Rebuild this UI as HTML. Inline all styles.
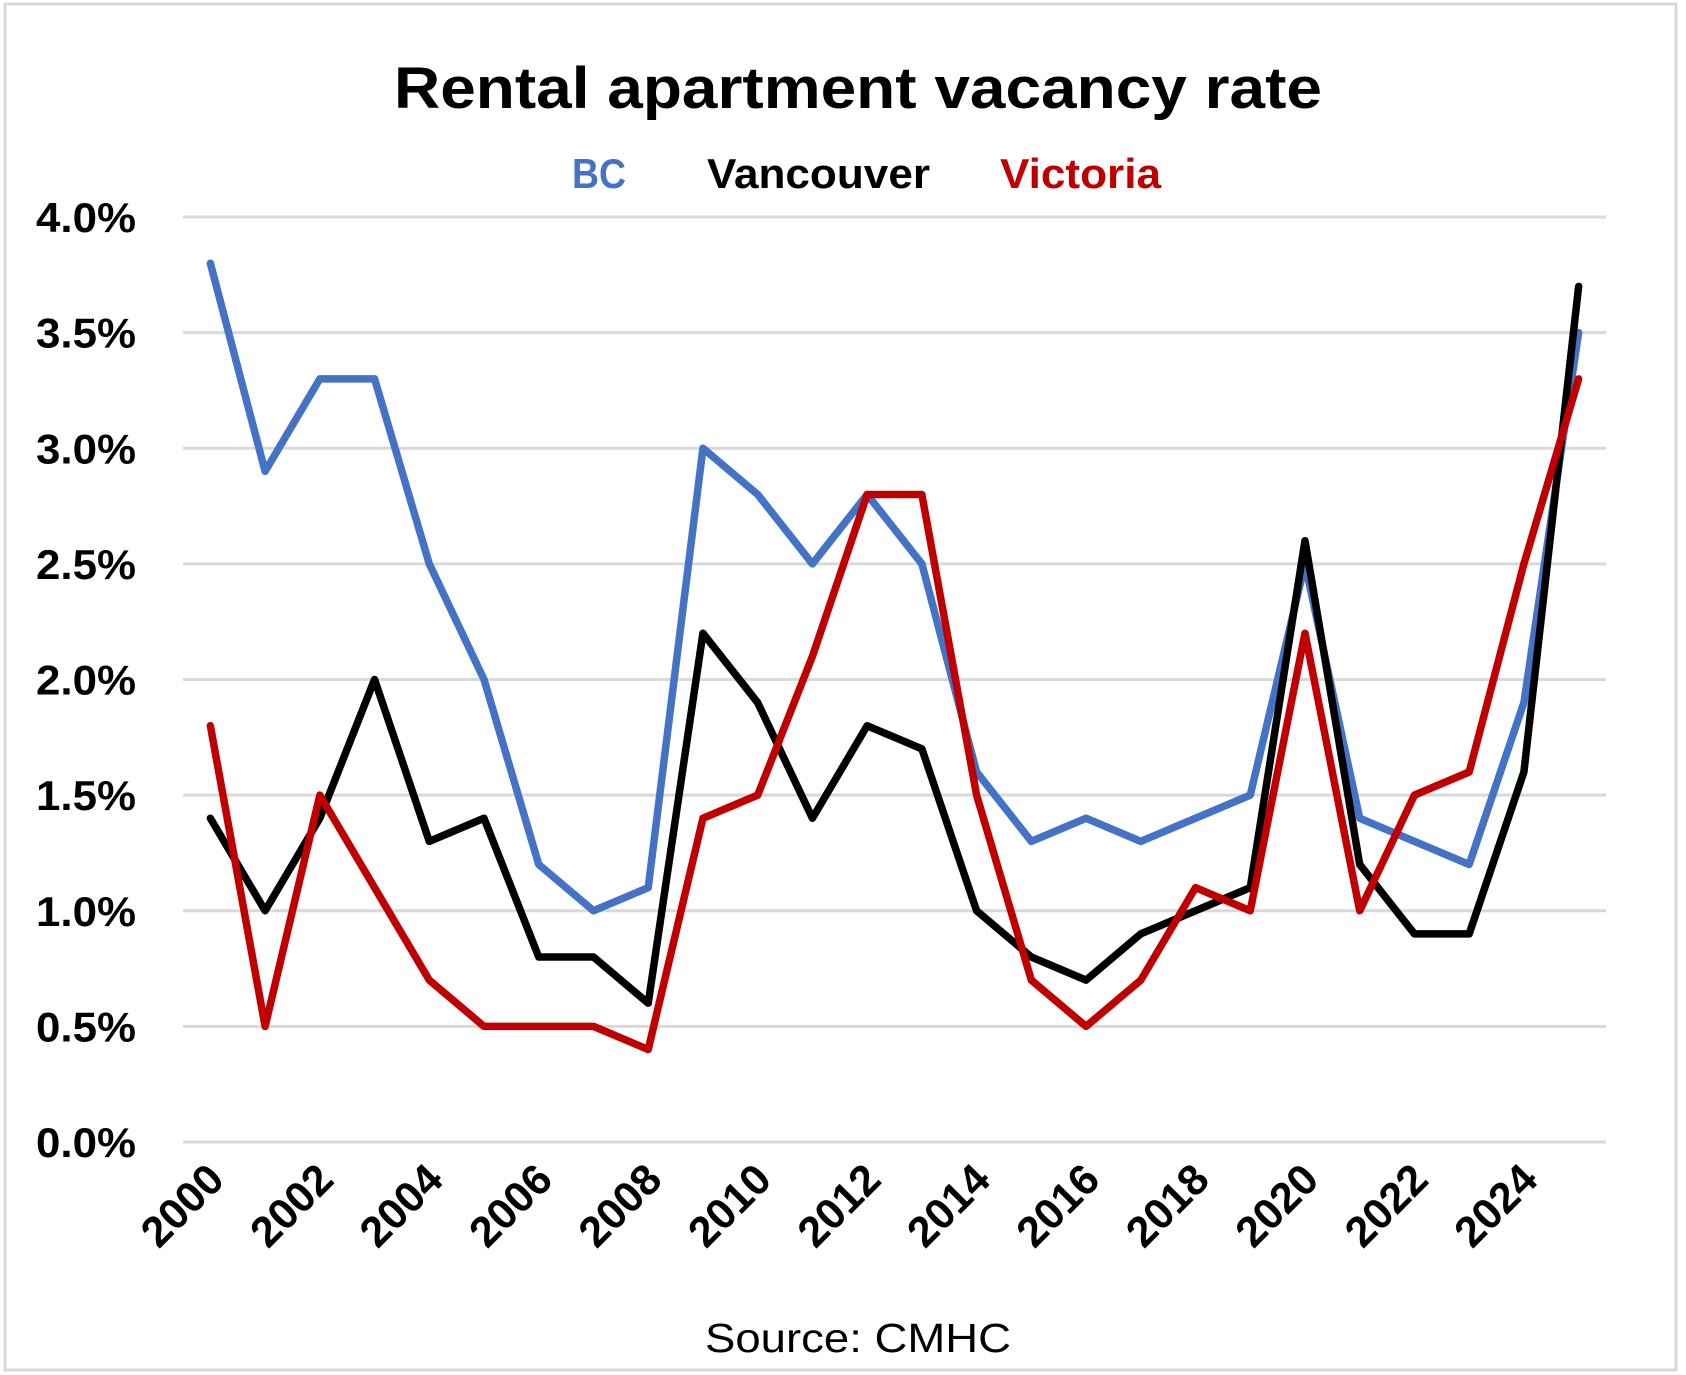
<!DOCTYPE html>
<html><head><meta charset="utf-8"><style>html,body{margin:0;padding:0;background:#fff}svg{display:block}</style></head>
<body>
<svg id="chart" width="1686" height="1375" xmlns="http://www.w3.org/2000/svg">
<rect x="5" y="4" width="1671" height="1366" fill="#fff" stroke="#d9d9d9" stroke-width="3"/>
<text x="858" y="108" text-anchor="middle" font-family="'Liberation Sans',sans-serif" font-weight="bold" font-size="58" textLength="928" lengthAdjust="spacingAndGlyphs">Rental apartment vacancy rate</text>
<g font-family="'Liberation Sans',sans-serif" font-weight="bold" font-size="42">
<text x="572" y="188" fill="#4472C4" textLength="54" lengthAdjust="spacingAndGlyphs">BC</text>
<text x="707" y="188" fill="#000" textLength="223" lengthAdjust="spacingAndGlyphs">Vancouver</text>
<text x="1000" y="188" fill="#C00000" textLength="161" lengthAdjust="spacingAndGlyphs">Victoria</text>
</g>
<g id="grid"></g><g id="ylab"></g><g id="xlab"></g><g id="lines"></g>
<text x="858" y="1352" text-anchor="middle" font-family="'Liberation Sans',sans-serif" font-size="41" textLength="306" lengthAdjust="spacingAndGlyphs">Source:  CMHC</text>
</svg>
<script>
const years=[2000,2001,2002,2003,2004,2005,2006,2007,2008,2009,2010,2011,2012,2013,2014,2015,2016,2017,2018,2019,2020,2021,2022,2023,2024,2025];
const bcValues=[3.8,2.9,3.3,3.3,2.5,2.0,1.2,1.0,1.1,3.0,2.8,2.5,2.8,2.5,1.6,1.3,1.4,1.3,1.4,1.5,2.5,1.4,1.3,1.2,1.9,3.5];
const vancouverValues=[1.4,1.0,1.4,2.0,1.3,1.4,0.8,0.8,0.6,2.2,1.9,1.4,1.8,1.7,1.0,0.8,0.7,0.9,1.0,1.1,2.6,1.2,0.9,0.9,1.6,3.7];
const victoriaValues=[1.8,0.5,1.5,1.1,0.7,0.5,0.5,0.5,0.4,1.4,1.5,2.1,2.8,2.8,1.5,0.7,0.5,0.7,1.1,1.0,2.2,1.0,1.5,1.6,2.5,3.3];
const yTicks=[0,0.5,1.0,1.5,2.0,2.5,3.0,3.5,4.0];
const xTickLabels=["2000","2002","2004","2006","2008","2010","2012","2014","2016","2018","2020","2022","2024"];
const NS="http://www.w3.org/2000/svg";
const L=183,R=1606,T=217,B=1142;
const step=(R-L)/years.length;
const xOf=i=>L+step*(i+0.5);
const yOf=v=>B-(v/4)*(B-T);
function mk(tag,attrs,parent){const e=document.createElementNS(NS,tag);for(const k in attrs)e.setAttribute(k,attrs[k]);parent.appendChild(e);return e;}
const grid=document.getElementById('grid'),ylab=document.getElementById('ylab'),xlab=document.getElementById('xlab'),lines=document.getElementById('lines');
yTicks.forEach(v=>{
 const g=mk('line',{x1:L,x2:R,y1:yOf(v),y2:yOf(v),stroke:'#d9d9d9','stroke-width':3},grid);
 
 
 const t=mk('text',{x:136,y:yOf(v)+15,'text-anchor':'end','font-family':"'Liberation Sans',sans-serif",'font-weight':'bold','font-size':42,textLength:100,lengthAdjust:'spacingAndGlyphs'},ylab);
 t.textContent=v.toFixed(1)+'%';
 
 
});
xTickLabels.forEach(lbl=>{
 const i=years.indexOf(+lbl);
 const x=xOf(i)+16,y=1182;
 const t=mk('text',{x:x,y:y,'text-anchor':'end','font-family':"'Liberation Sans',sans-serif",'font-weight':'bold','font-size':43,transform:`rotate(-45 ${x} ${y})`},xlab);
 t.textContent=lbl;
 
 
});
[[bcValues,'#4472C4','bc-line'],[vancouverValues,'#000000','vancouver-line'],[victoriaValues,'#C00000','victoria-line']].forEach(([vals,c,n])=>{
 const p=mk('polyline',{points:vals.map((v,i)=>xOf(i)+','+yOf(v)).join(' '),fill:'none',stroke:c,'stroke-width':7.5,'stroke-linejoin':'round','stroke-linecap':'round'},lines);
 
 
});
</script>
</body></html>
